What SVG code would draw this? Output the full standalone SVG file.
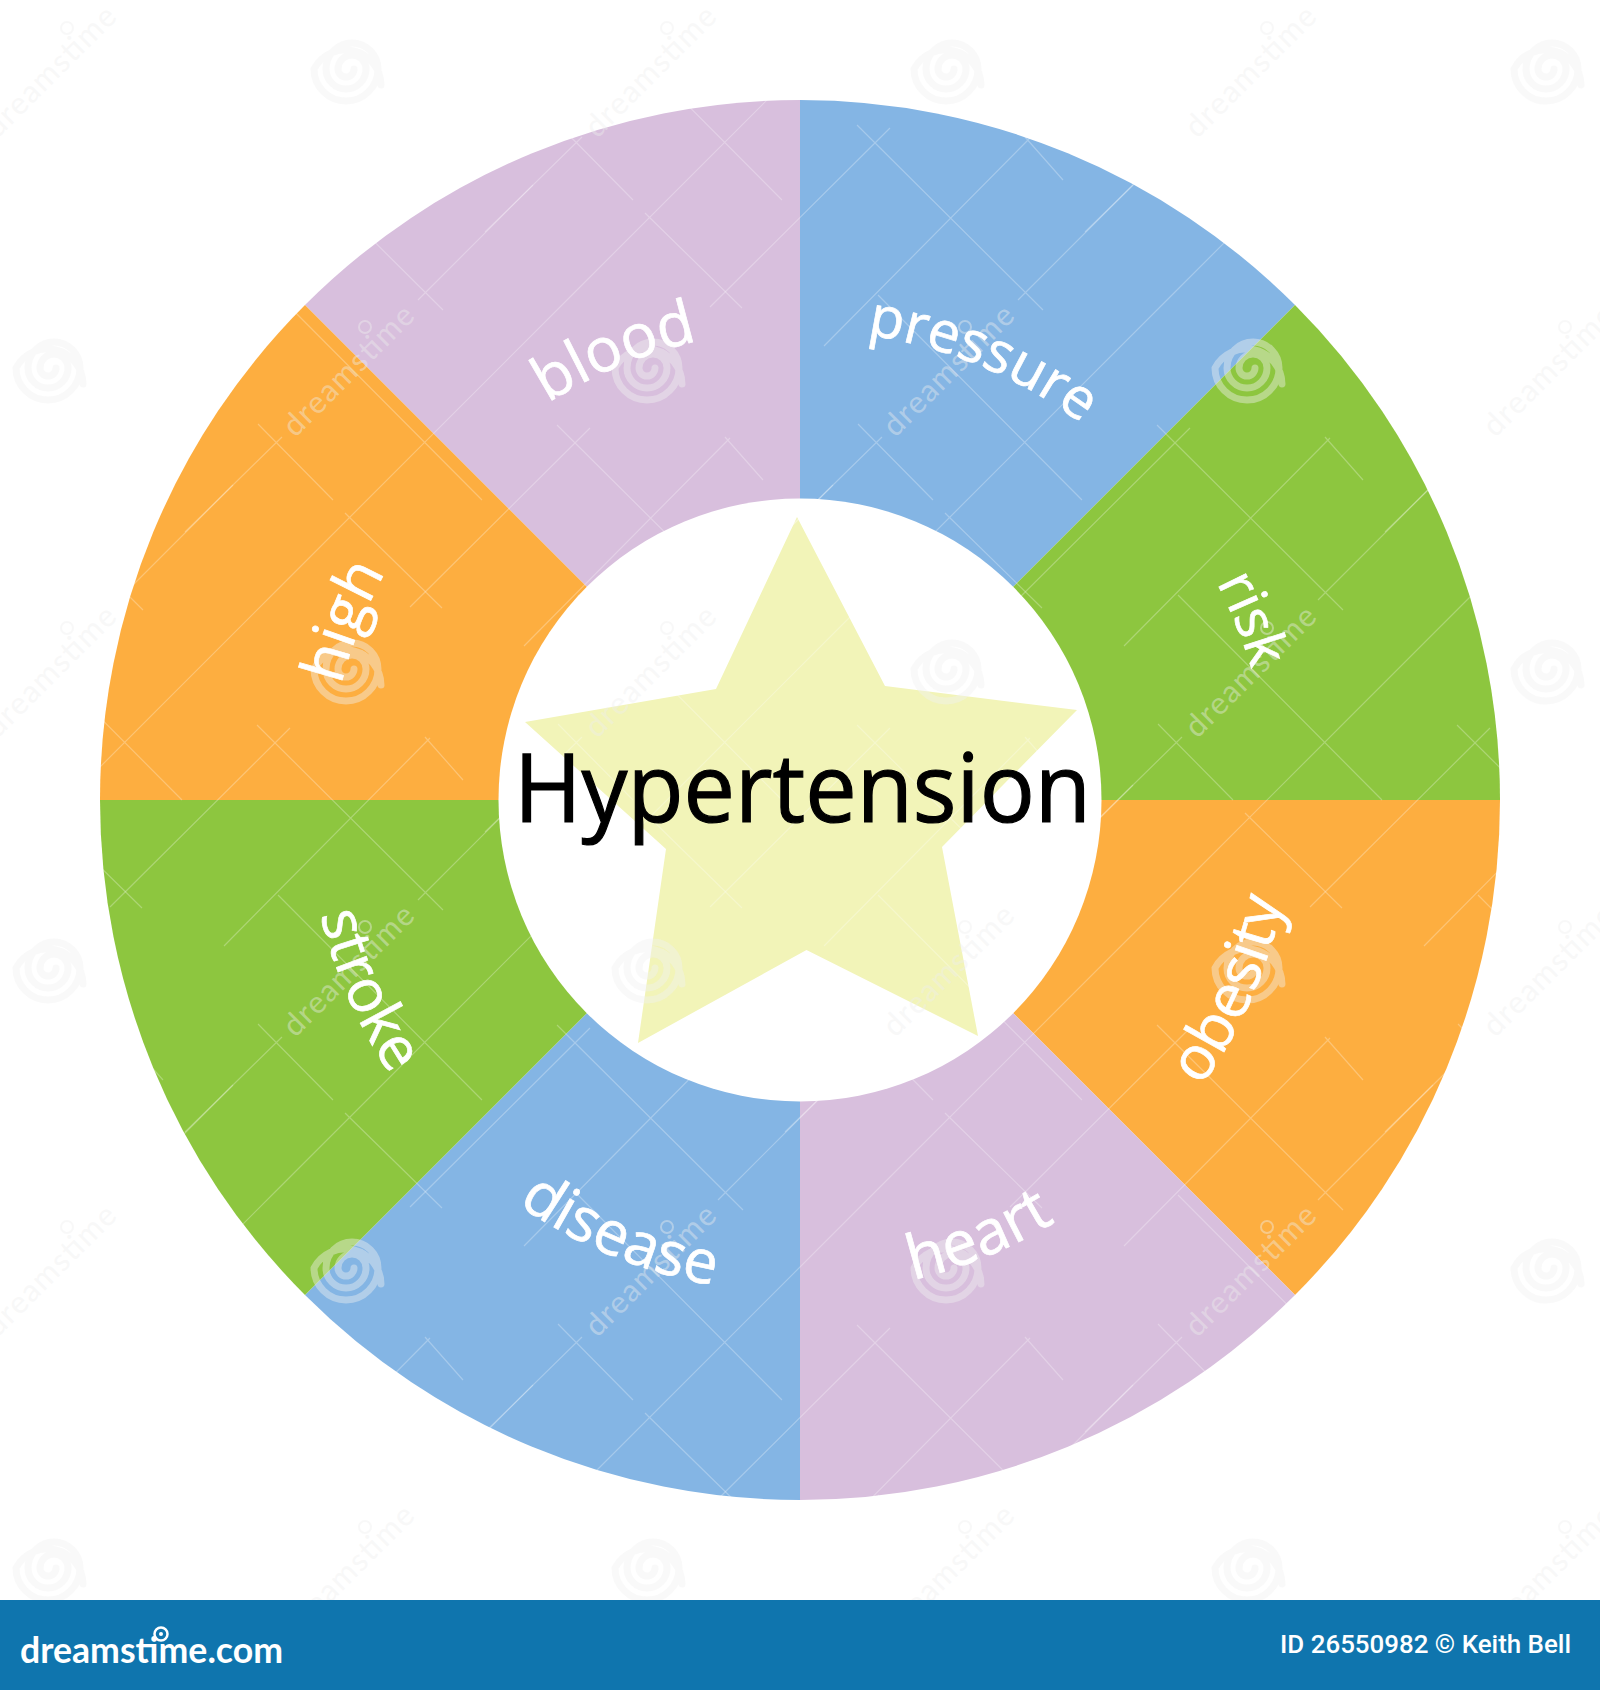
<svg xmlns="http://www.w3.org/2000/svg" xmlns:xlink="http://www.w3.org/1999/xlink" width="1600" height="1690" viewBox="0 0 1600 1690">
  <style>
    .label { font-family: "Open Sans", "Noto Sans", sans-serif; font-size: 60px; fill: #ffffff; stroke: #ffffff; stroke-width: .7; }
    .title { font-family: "Open Sans", "Noto Sans", sans-serif; font-size: 96px; fill: #000000; stroke: #000000; stroke-width: 1.2; }
    .purple { fill: #d8bfdd; } .blue { fill: #84b5e4; } .green { fill: #8dc63f; } .orange { fill: #fdae40; }
    .spiral { fill: none; stroke: #f0f0f0; stroke-opacity: .42; stroke-width: 7; stroke-linecap: round; }
    .mark { font-family: "Lato", "Open Sans", sans-serif; font-size: 31px; fill: #eeeeee; fill-opacity: .42; }
    .logo { fill: none; stroke: #eeeeee; stroke-opacity: .42; stroke-width: 2; }
    .grid { stroke: #ffffff; stroke-opacity: .28; stroke-width: 1.2; fill: none; }
    .foot { fill: #ffffff; }
  </style>
  <defs>
    <path id="p-high" d="M363,981 A473,473 0 0 1 619,363"/>
    <path id="p-blood" d="M365.8,620.1 A470,470 0 0 1 979.9,365.8"/>
    <path id="p-pressure" d="M620.1,365.8 A470,470 0 0 1 1234.2,620.1"/>
    <path id="p-risk" d="M979.9,365.8 A470,470 0 0 1 1234.2,979.9"/>
    <path id="p-stroke" d="M344.5,611.3 A493,493 0 0 0 611.3,1255.5"/>
    <path id="p-disease" d="M344.5,988.7 A493,493 0 0 0 988.7,1255.5"/>
    <path id="p-heart" d="M611.3,1255.5 A493,493 0 0 0 1255.5,988.7"/>
    <path id="p-obesity" d="M988.7,1255.5 A493,493 0 0 0 1255.5,611.3"/>
    <path id="sp" class="spiral" d="M5,0 A8,8 0 0 1 -11,0 A14,14 0 0 1 17,0 A20,20 0 0 1 -23,0 A26,26 0 0 1 29,0 A32,32 0 0 1 -35,0 A35.5,35.5 0 0 1 32,16"/>
    <g id="wm">
      <text class="mark" transform="rotate(-45)" text-anchor="middle" y="11" textLength="171" lengthAdjust="spacing">dreamstime</text>
      <circle class="logo" cx="17" cy="-43" r="6"/>
    </g>
    <path id="tile" class="grid" d="M1018,300 L1133,185 M877,590 L1177,290 M710,307 L890,128 M824,346 L1030,138 M785,532 L882,437 M857,125 L1043,310 M1025,137 L1063,180 M858,424 L933,500 M945,513 L1042,608 M878,295 L1082,500"/>
  </defs>

  <rect id="background" width="1600" height="1690" fill="#ffffff"/>

  <g id="sector-blood"><path class="purple" d="M800,800 L305,305 A700,700 0 0 1 800,100 Z"/></g>
  <g id="sector-pressure"><path class="blue" d="M800,800 L800,100 A700,700 0 0 1 1295,305 Z"/></g>
  <g id="sector-risk"><path class="green" d="M800,800 L1295,305 A700,700 0 0 1 1500,800 Z"/></g>
  <g id="sector-obesity"><path class="orange" d="M800,800 L1500,800 A700,700 0 0 1 1295,1295 Z"/></g>
  <g id="sector-heart"><path class="purple" d="M800,800 L1295,1295 A700,700 0 0 1 800,1500 Z"/></g>
  <g id="sector-disease"><path class="blue" d="M800,800 L800,1500 A700,700 0 0 1 305,1295 Z"/></g>
  <g id="sector-stroke"><path class="green" d="M800,800 L305,1295 A700,700 0 0 1 100,800 Z"/></g>
  <g id="sector-high"><path class="orange" d="M800,800 L100,800 A700,700 0 0 1 305,305 Z"/></g>

  <g id="center">
    <circle cx="800" cy="800" r="301.5" fill="#ffffff"/>
    <polygon points="797,517 885,686 1077,710 942,847 978,1036 806.5,950 638,1043 666,849 525,722 716,689" fill="#f2f4b8"/>
  </g>

  <g id="watermark-lines">
    <use href="#tile" transform="translate(-900,-300)"/>
    <use href="#tile" transform="translate(-300,-300)"/>
    <use href="#tile" transform="translate(300,-300)"/>
    <use href="#tile" transform="translate(-600,0)"/>
    <use href="#tile"/>
    <use href="#tile" transform="translate(600,0)"/>
    <use href="#tile" transform="translate(-900,300)"/>
    <use href="#tile" transform="translate(-300,300)"/>
    <use href="#tile" transform="translate(300,300)"/>
    <use href="#tile" transform="translate(-600,600)"/>
    <use href="#tile" transform="translate(0,600)"/>
    <use href="#tile" transform="translate(600,600)"/>
    <use href="#tile" transform="translate(-900,900)"/>
    <use href="#tile" transform="translate(-300,900)"/>
    <use href="#tile" transform="translate(300,900)"/>
    <use href="#tile" transform="translate(-600,1200)"/>
    <use href="#tile" transform="translate(0,1200)"/>
  </g>

  <g id="watermark-spirals" transform="translate(1,-2)">
    <use href="#sp" x="348" y="71"/><use href="#sp" x="948" y="71"/><use href="#sp" x="1548" y="71"/>
    <use href="#sp" x="50" y="370"/><use href="#sp" x="649" y="370"/><use href="#sp" x="1249" y="370"/>
    <use href="#sp" x="348" y="671"/><use href="#sp" x="948" y="671"/><use href="#sp" x="1548" y="671"/>
    <use href="#sp" x="50" y="970"/><use href="#sp" x="649" y="970"/><use href="#sp" x="1249" y="970"/>
    <use href="#sp" x="348" y="1270"/><use href="#sp" x="948" y="1270"/><use href="#sp" x="1548" y="1270"/>
    <use href="#sp" x="50" y="1570"/><use href="#sp" x="649" y="1570"/><use href="#sp" x="1249" y="1570"/>
  </g>

  <g id="watermark-text">
    <use href="#wm" x="50" y="71"/><use href="#wm" x="650" y="71"/><use href="#wm" x="1250" y="71"/>
    <use href="#wm" x="348" y="370"/><use href="#wm" x="948" y="370"/><use href="#wm" x="1548" y="370"/>
    <use href="#wm" x="50" y="671"/><use href="#wm" x="650" y="671"/><use href="#wm" x="1250" y="671"/>
    <use href="#wm" x="348" y="970"/><use href="#wm" x="948" y="970"/><use href="#wm" x="1548" y="970"/>
    <use href="#wm" x="50" y="1270"/><use href="#wm" x="650" y="1270"/><use href="#wm" x="1250" y="1270"/>
    <use href="#wm" x="348" y="1570"/><use href="#wm" x="948" y="1570"/><use href="#wm" x="1548" y="1570"/>
  </g>

  <g id="labels">
    <text class="label" text-anchor="middle"><textPath href="#p-high" startOffset="48.8%">high</textPath></text>
    <text class="label" text-anchor="middle" style="font-size:61px"><textPath href="#p-blood" startOffset="50%">blood</textPath></text>
    <text class="label" text-anchor="middle" style="font-size:57px"><textPath href="#p-pressure" startOffset="50%">pressure</textPath></text>
    <text class="label" text-anchor="middle" style="font-size:56px"><textPath href="#p-risk" startOffset="50.7%">risk</textPath></text>
    <text class="label" text-anchor="middle" style="font-size:61px"><textPath href="#p-obesity" startOffset="48.7%">obesity</textPath></text>
    <text class="label" text-anchor="middle" style="font-size:62px"><textPath href="#p-heart" startOffset="49.7%">heart</textPath></text>
    <text class="label" text-anchor="middle" style="font-size:61px"><textPath href="#p-disease" startOffset="50%">disease</textPath></text>
    <text class="label" text-anchor="middle"><textPath href="#p-stroke" startOffset="51.3%">stroke</textPath></text>
    <text class="title" x="514" y="822" textLength="577" lengthAdjust="spacingAndGlyphs">Hypertension</text>
  </g>

  <g id="footer">
    <rect x="0" y="1600" width="1600" height="90" fill="#0f75ae"/>
    <text class="foot" x="20" y="1663" font-family="Lato, 'Open Sans', sans-serif" font-size="37" font-weight="700" textLength="263" lengthAdjust="spacingAndGlyphs">dreamstime.com</text>
    <circle cx="161" cy="1634" r="6.5" fill="none" stroke="#ffffff" stroke-width="2.5"/>
    <circle cx="161" cy="1634" r="2" fill="#ffffff"/>
    <text class="foot" x="1571" y="1653" text-anchor="end" font-family="Roboto, sans-serif" font-size="25.9" font-weight="500">ID 26550982 © Keith Bell</text>
  </g>
</svg>
